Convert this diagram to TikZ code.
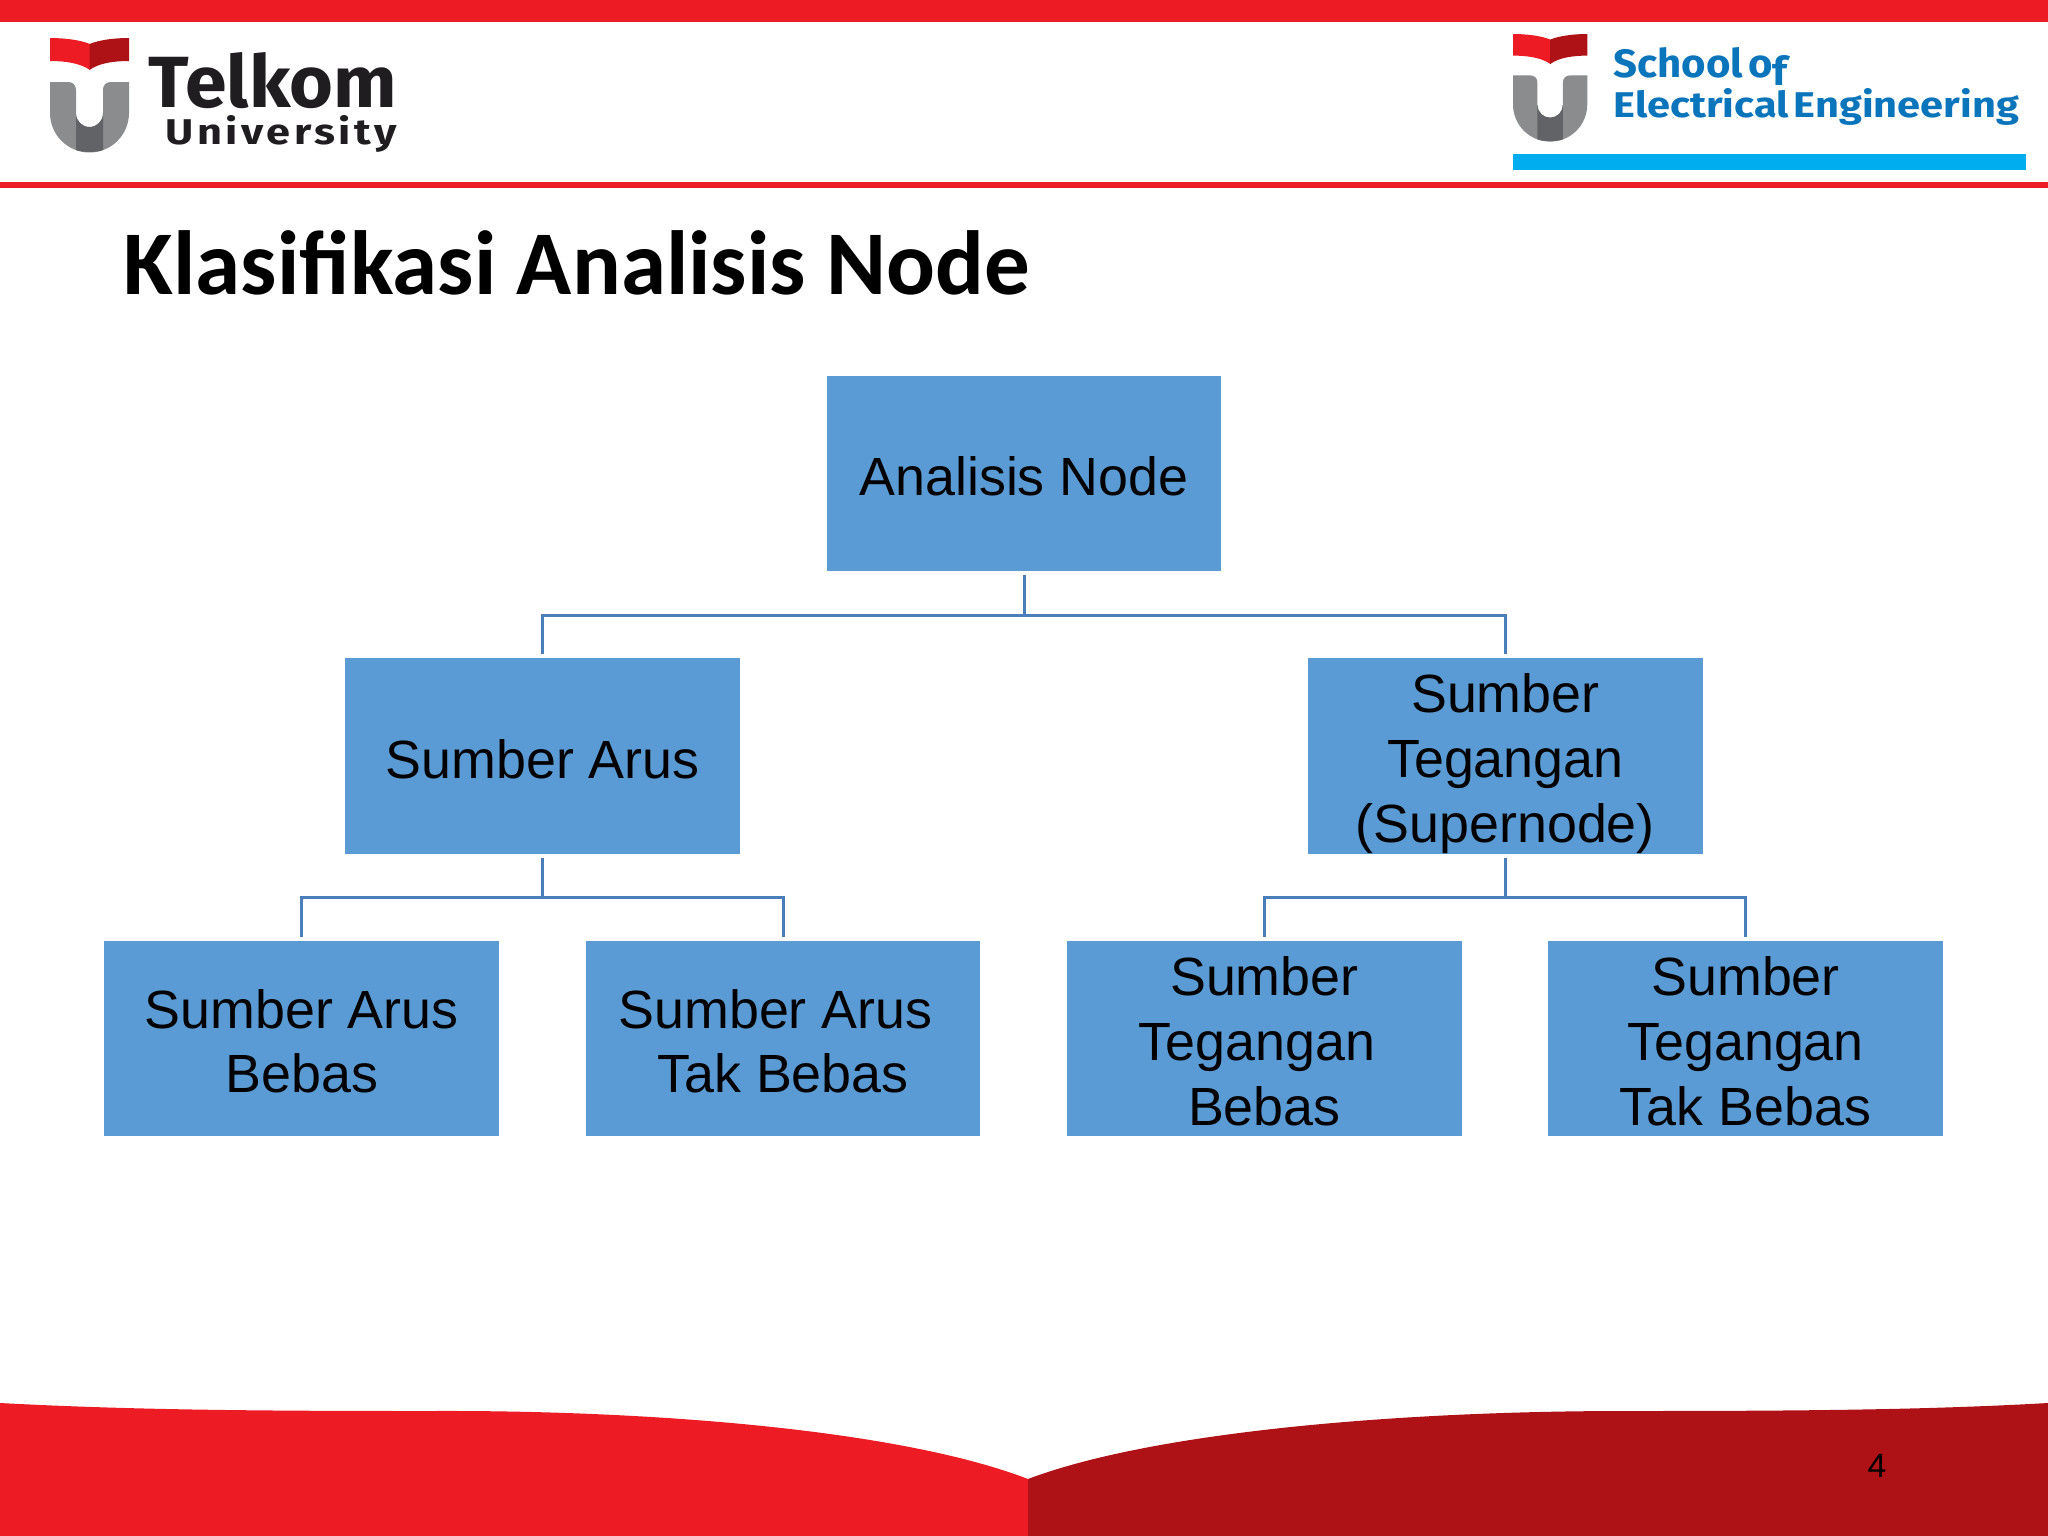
\documentclass[tikz,border=0pt]{standalone}
\usepackage{fontspec}
\usepackage{graphicx}
\setmainfont{Liberation Sans}
\newfontfamily\titlefont{Carlito}
\newfontfamily\logofont{Fira Sans}
\newfontfamily\logospaced[LetterSpace=8]{Fira Sans}
\newcommand\lineA{\vrule width 0pt height 15.4pt\relax}
\newcommand\lineZ{\vrule width 0pt height 0pt depth 2.8pt\relax}
\definecolor{tured}{HTML}{ED1C24}
\definecolor{tudark}{HTML}{AE1116}
\definecolor{tugray}{HTML}{8A8C8E}
\definecolor{tugraydark}{HTML}{626366}
\definecolor{boxblue}{HTML}{5B9BD5}
\definecolor{linkblue}{HTML}{4A7EBB}
\definecolor{skybar}{HTML}{00AEEF}
\definecolor{schoolblue}{HTML}{0B75BC}
\definecolor{logoink}{HTML}{1F1D20}
\tikzset{
  box/.style={fill=boxblue,draw=none,minimum width=3.945cm,minimum height=1.955cm,inner sep=0pt,outer sep=.04cm,align=center,
    font=\fontsize{15.3}{18.4}\selectfont,text=black},
  link/.style={draw=linkblue,line width=.85pt},
  logotext/.style={anchor=base west,inner sep=0pt,font=\logofont\bfseries},
  ulogo/.pic={
    \fill[tured] (0,0) .. controls (15,0) and (30,2) .. (40,6) -- (40,32) .. controls (30,25) and (15,23) .. (0,23) -- cycle;
    \fill[tudark] (79,0) .. controls (64,0) and (49,2) .. (39.5,6) -- (39.5,32) .. controls (49,25) and (64,23) .. (79,23) -- cycle;
    \fill[tugray] (0,44) -- (0,75) arc (180:0:39.5) -- (79,44) -- (61,44) .. controls (56,44) and (53,47) .. (53,52) -- (53,75.5) arc (0:180:13.5) -- (26,52) .. controls (26,47) and (23,44) .. (18,44) -- cycle;
    \fill[tugraydark] (26,75.5) arc (180:0:13.5) -- (53,112) .. controls (48,114.5) and (31,114.5) .. (26,112) -- cycle;
  }
}
\begin{document}
\begin{tikzpicture}[x=0.01cm,y=-0.01cm]
\useasboundingbox (0,0) rectangle (2048,1536);
% header
\fill[tured] (0,0) rectangle (2048,22);
\fill[tured] (0,182) rectangle (2048,188);
\fill[skybar] (1513,154) rectangle (2026,170);
\pic at (50,38) {ulogo};
\pic[scale=.94] at (1513,34) {ulogo};
\node[logotext,text=logoink] (telkom) at (148,107) {\resizebox{2.48cm}{.55cm}{Telkom}};
\node[anchor=base west,inner sep=0pt,text=logoink] (university) at (165,144) {\resizebox{2.31cm}{.29cm}{\logospaced\bfseries University}};
\node[logotext,text=schoolblue] (school) at (1613,77) {\resizebox{1.74cm}{.3cm}{School\hspace{.12em}o\raisebox{-.22em}{f}}};
\node[logotext,text=schoolblue] (electrical) at (1613,117) {\resizebox{4.05cm}{.29cm}{Electrical\hspace{.12em}Engineering}};
% title
\node[anchor=base west,inner sep=0pt,font=\titlefont\bfseries\fontsize{25.9}{30}\selectfont,text=black] (title) at (123,294) {Klasifikasi Analisis Node};
% footer
\fill[tured] (0,1403) .. controls (131,1410) and (261,1411) .. (431,1411) .. controls (653,1410) and (901,1430) .. (1028,1479) -- (1028,1536) -- (0,1536) -- cycle;
\fill[tudark] (1028,1479) .. controls (1155,1431) and (1403,1411) .. (1625,1411) .. controls (1795,1411) and (1925,1410) .. (2048,1403) -- (2048,1536) -- (1028,1536) -- cycle;
\node[inner sep=0pt,font=\fontsize{9.6}{11}\selectfont] (pagenum) at (1877,1466) {4};
% boxes
\node[box] (root) at (1024,473.5) {\lineA Analisis Node\lineZ};
\node[box] (arus) at (542.7,756) {\lineA Sumber Arus\lineZ};
\node[box] (teg) at (1505.3,756) {\lineA Sumber\\Tegangan\\(Supernode)\lineZ};
\node[box] (arusb) at (301.7,1038.3) {\lineA Sumber Arus\\Bebas\lineZ};
\node[box] (arust) at (783,1038.3) {\lineA Sumber Arus\kern4.25pt\\Tak Bebas\lineZ};
\node[box] (tegb) at (1264.3,1038.3) {\lineA Sumber\\\hbox{Tegangan\kern4.25pt}\\Bebas\lineZ};
\node[box] (tegt) at (1745.6,1038.3) {\lineA Sumber\\Tegangan\\Tak Bebas\lineZ};
% connectors
\draw[link] (root.south) -- ++(0,40) -| (arus.north);
\draw[link] (root.south) -- ++(0,40) -| (teg.north);
\draw[link] (arus.south) -- ++(0,40) -| (arusb.north);
\draw[link] (arus.south) -- ++(0,40) -| (arust.north);
\draw[link] (teg.south) -- ++(0,40) -| (tegb.north);
\draw[link] (teg.south) -- ++(0,40) -| (tegt.north);
\end{tikzpicture}
\end{document}
